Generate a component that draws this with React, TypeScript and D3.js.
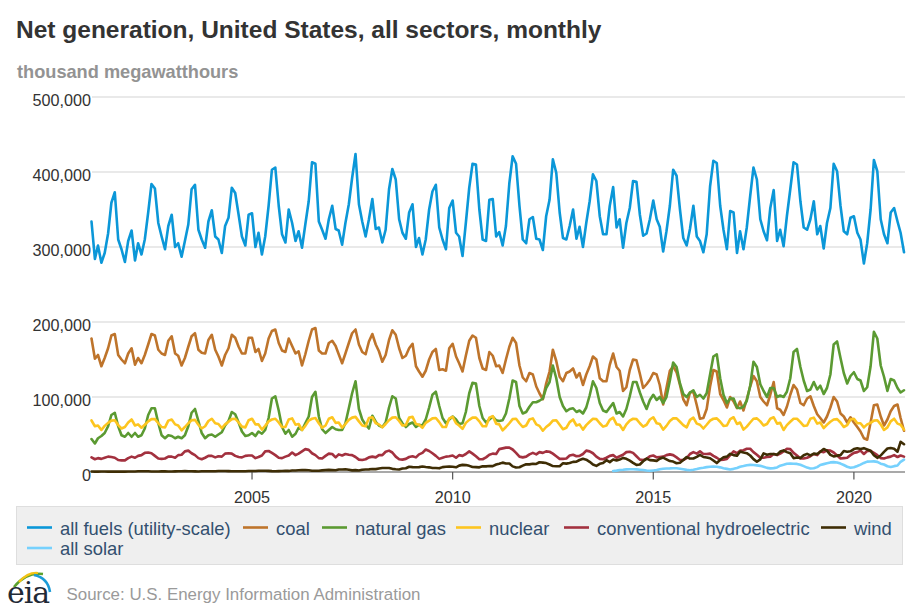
import React from 'react';
import * as d3 from 'd3';

// Monthly net generation, Jan 2001 – Apr 2021.
// Values are in million MWh (the axis is labelled in thousand megawatthours).
const allFuels = [
  334, 284, 302, 279, 292, 318, 359, 373, 310, 297, 280, 308,
  322, 282, 305, 290, 310, 346, 384, 378, 332, 314, 297, 328,
  343, 300, 305, 287, 308, 330, 377, 383, 323, 310, 299, 334,
  349, 314, 310, 292, 328, 339, 379, 372, 343, 314, 302, 343,
  345, 300, 319, 290, 314, 355, 403, 406, 355, 317, 306, 350,
  332, 308, 321, 299, 330, 361, 413, 411, 334, 323, 311, 337,
  355, 324, 322, 303, 332, 357, 392, 424, 357, 334, 314, 337,
  364, 324, 326, 306, 323, 377, 404, 390, 337, 319, 311, 346,
  357, 300, 312, 290, 310, 350, 374, 383, 326, 310, 297, 352,
  362, 319, 314, 288, 332, 379, 411, 410, 350, 310, 308, 363,
  364, 314, 320, 302, 328, 385, 421, 411, 355, 310, 305, 337,
  340, 311, 310, 296, 341, 363, 417, 399, 346, 312, 310, 328,
  350, 311, 327, 300, 332, 361, 397, 388, 341, 317, 317, 355,
  380, 326, 337, 299, 332, 352, 388, 387, 343, 315, 318, 337,
  362, 337, 327, 294, 321, 355, 403, 395, 350, 312, 302, 324,
  355, 314, 308, 293, 317, 381, 415, 412, 355, 323, 297, 348,
  346, 292, 321, 297, 326, 368, 406, 390, 337, 321, 309, 352,
  376, 308, 323, 301, 341, 377, 413, 410, 361, 326, 323, 337,
  361, 317, 328, 298, 332, 352, 411, 401, 355, 321, 317, 339,
  341, 319, 310, 278, 305, 350, 416, 401, 337, 317, 305, 346,
  352, 334, 319, 293,
];

const coal = [
  178, 151, 156, 141, 152, 165, 182, 184, 156, 150, 145, 158,
  165, 143, 152, 145, 156, 170, 184, 182, 163, 158, 156, 175,
  181, 158, 155, 142, 152, 167, 181, 185, 163, 159, 158, 176,
  183, 163, 154, 142, 156, 165, 183, 179, 167, 158, 158, 179,
  179, 160, 164, 148, 158, 178, 188, 190, 172, 162, 160, 178,
  168, 158, 161, 142, 157, 175, 190, 192, 162, 158, 158, 172,
  175, 168, 157, 145, 158, 172, 185, 190, 170, 160, 157, 174,
  184, 170, 161, 147, 156, 176, 189, 183, 165, 152, 155, 165,
  171, 141, 134, 127, 135, 150, 160, 164, 136, 137, 135, 165,
  171, 154, 145, 134, 155, 175, 182, 179, 152, 138, 136, 160,
  155, 141, 142, 132, 150, 167, 179, 172, 142, 126, 121, 132,
  130, 114, 105, 97, 118, 134, 163, 148, 127, 121, 132, 134,
  138, 126, 132, 116, 130, 141, 154, 150, 125, 121, 121, 143,
  158, 140, 135, 108, 113, 136, 150, 149, 131, 112, 117, 123,
  132, 130, 116, 90, 112, 135, 141, 133, 116, 97, 89, 106,
  107, 89, 71, 72, 84, 114, 136, 134, 104, 96, 86, 100,
  94, 85, 94, 82, 97, 114, 128, 121, 100, 94, 89, 103,
  120, 85, 83, 76, 87, 103, 116, 110, 92, 89, 98, 101,
  88, 77, 72, 66, 74, 86, 100, 94, 78, 74, 66, 73,
  66, 60, 54, 45, 43, 66, 89, 90, 74, 62, 70, 81,
  88, 90, 72, 55,
];

const naturalGas = [
  44, 38, 45, 48, 52, 61, 76, 79, 61, 49, 47, 52,
  47, 52, 47, 49, 58, 76, 85, 85, 65, 49, 45, 49,
  48, 45, 47, 45, 49, 61, 79, 84, 68, 52, 45, 49,
  50, 47, 50, 53, 62, 68, 80, 77, 66, 54, 48, 49,
  52, 48, 54, 51, 56, 72, 98, 101, 82, 60, 51, 56,
  47, 51, 59, 56, 65, 74, 100, 107, 74, 57, 52, 56,
  60, 57, 56, 56, 65, 85, 105, 121, 84, 70, 63, 58,
  75, 67, 62, 60, 66, 86, 101, 98, 72, 65, 60, 64,
  66, 60, 63, 62, 70, 86, 103, 107, 88, 72, 65, 70,
  74, 70, 64, 65, 80, 105, 119, 118, 88, 72, 66, 70,
  74, 69, 68, 69, 78, 98, 122, 120, 88, 78, 80, 87,
  93, 93, 95, 98, 112, 120, 142, 125, 100, 88, 81, 84,
  85, 80, 82, 78, 86, 102, 121, 112, 92, 82, 80, 86,
  92, 78, 80, 74, 84, 101, 120, 120, 106, 94, 84, 96,
  103, 96, 100, 92, 100, 122, 146, 140, 118, 104, 100, 106,
  109, 100, 103, 98, 105, 130, 154, 157, 125, 103, 92, 98,
  98, 86, 85, 87, 95, 115, 147, 140, 117, 108, 100, 112,
  112, 100, 102, 100, 107, 125, 160, 164, 140, 122, 108, 110,
  120, 110, 115, 104, 112, 130, 170, 174, 152, 132, 118, 128,
  133, 124, 122, 108, 113, 141, 187, 178, 142, 127, 108, 124,
  122, 112, 106, 109,
];

const nuclear = [
  68.7, 61.0, 62.0, 56.0, 61.5, 65.5, 68.5, 68.9, 62.5, 58.0, 60.0, 66.0,
  70.0, 62.0, 63.5, 59.0, 63.0, 67.5, 70.5, 70.5, 65.0, 60.0, 59.5, 68.5,
  70.0, 63.5, 62.0, 55.5, 60.0, 65.0, 69.0, 69.5, 63.0, 58.0, 61.0, 68.0,
  71.0, 65.0, 64.0, 58.5, 63.5, 67.0, 70.5, 71.0, 66.0, 60.5, 59.5, 69.0,
  71.0, 63.5, 63.5, 56.5, 61.5, 67.5, 70.0, 71.0, 66.0, 60.0, 60.0, 70.0,
  71.5, 63.0, 64.0, 56.0, 61.5, 68.5, 71.0, 72.0, 65.0, 59.0, 62.0, 71.0,
  73.0, 65.5, 66.0, 59.0, 64.0, 69.5, 72.5, 73.5, 67.5, 62.0, 61.0, 72.0,
  73.0, 65.0, 63.5, 59.5, 64.0, 69.0, 72.5, 73.0, 68.0, 62.0, 62.5, 72.5,
  73.5, 64.0, 63.0, 59.0, 65.5, 68.5, 71.5, 72.0, 66.5, 60.0, 60.0, 71.5,
  73.5, 65.0, 62.0, 57.5, 65.5, 69.5, 72.5, 72.5, 67.5, 61.0, 61.0, 72.5,
  74.5, 64.5, 63.5, 55.5, 60.0, 65.0, 70.5, 71.0, 65.0, 60.0, 62.0, 70.0,
  71.5, 63.5, 61.5, 55.0, 60.0, 63.5, 68.5, 69.0, 63.0, 57.0, 59.0, 66.5,
  70.0, 62.0, 63.5, 56.5, 62.5, 67.0, 71.0, 70.5, 65.0, 60.5, 62.0, 69.5,
  72.5, 63.5, 63.0, 56.0, 63.5, 68.5, 71.0, 70.5, 65.0, 60.5, 63.0, 70.0,
  73.0, 65.0, 64.0, 56.5, 61.5, 68.0, 71.5, 71.5, 67.0, 62.5, 59.5, 69.5,
  72.5, 64.5, 63.0, 58.0, 63.0, 68.5, 71.0, 71.5, 67.0, 61.5, 62.0, 70.5,
  73.0, 64.0, 66.0, 56.5, 60.5, 66.0, 71.0, 71.5, 67.5, 62.0, 64.0, 71.0,
  73.0, 64.5, 65.5, 56.0, 62.5, 67.0, 71.0, 71.0, 66.5, 61.5, 62.0, 71.0,
  72.5, 64.5, 66.0, 58.5, 63.0, 67.0, 70.0, 70.5, 66.0, 60.0, 62.5, 70.0,
  71.0, 65.0, 65.0, 59.5, 63.5, 65.5, 68.5, 69.0, 63.5, 56.0, 59.5, 67.5,
  71.0, 64.5, 63.0, 56.5,
];

const hydro = [
  19.5, 17.0, 18.5, 17.5, 19.0, 20.5, 20.0, 19.0, 16.0, 15.5, 15.5, 18.5,
  20.5, 19.0, 21.5, 22.5, 25.5, 26.0, 25.0, 21.5, 18.0, 17.5, 18.0, 20.5,
  20.5, 19.0, 22.5, 23.0, 27.5, 28.5, 25.0, 22.5, 18.5, 17.0, 19.0, 21.5,
  21.5, 19.5, 21.0, 20.5, 24.5, 25.0, 24.5, 21.5, 20.0, 19.5, 21.5, 22.0,
  22.0, 18.5, 20.0, 22.0, 27.5, 28.0, 25.5, 22.5, 19.0, 18.5, 20.5, 22.0,
  26.0, 22.5, 24.5, 27.5, 30.5, 29.5, 25.0, 22.5, 18.5, 18.0, 21.5, 24.5,
  24.0, 19.5, 23.5, 22.0, 24.0, 23.0, 22.5, 20.0, 16.5, 16.0, 17.0, 19.5,
  20.5, 19.5, 22.5, 22.5, 27.0, 28.5, 26.0, 20.5, 17.0, 16.5, 17.5, 20.0,
  21.0, 19.5, 23.5, 25.5, 30.0, 28.0, 25.0, 21.5, 17.5, 19.0, 20.5, 21.0,
  22.0, 19.0, 22.5, 21.5, 24.0, 27.5, 24.5, 21.0, 17.0, 17.0, 19.5, 23.0,
  24.5, 24.0, 30.5, 31.5, 32.5, 32.5, 30.0, 25.5, 20.5, 19.5, 20.5, 23.5,
  25.5, 23.5, 26.5, 25.5, 27.5, 27.0, 24.5, 21.0, 17.5, 17.5, 18.0, 22.0,
  23.0, 21.0, 21.5, 24.0, 28.5, 27.5, 25.0, 20.5, 17.5, 17.0, 19.0, 21.5,
  22.5, 19.0, 21.0, 23.0, 26.5, 27.0, 25.5, 21.0, 16.5, 16.0, 17.5, 21.0,
  22.0, 19.5, 20.0, 20.5, 22.5, 23.5, 22.5, 19.5, 16.0, 16.0, 18.5, 24.0,
  26.5, 24.5, 27.5, 24.0, 24.0, 24.5, 21.5, 19.0, 16.0, 16.5, 17.5, 22.5,
  27.5, 25.0, 28.5, 29.0, 31.0, 31.0, 26.5, 23.0, 19.0, 19.0, 20.0, 20.5,
  24.0, 22.5, 24.5, 27.5, 31.0, 30.5, 25.5, 22.0, 18.0, 18.0, 19.0, 21.0,
  24.0, 22.5, 27.5, 26.5, 29.0, 28.5, 26.0, 22.0, 18.0, 18.5, 19.0, 22.5,
  25.5, 26.5, 28.5, 24.0, 28.0, 28.0, 25.5, 22.5, 18.5, 18.0, 19.5, 20.5,
  22.5, 20.0, 22.0, 20.5,
];

const wind = [
  0.6, 0.45, 0.55, 0.6, 0.65, 0.55, 0.45, 0.45, 0.45, 0.6, 0.55, 0.6,
  0.75, 0.75, 0.95, 1.0, 1.05, 0.95, 0.75, 0.75, 0.65, 0.8, 0.8, 0.75,
  0.65, 0.8, 1.0, 1.1, 1.15, 1.0, 0.95, 0.85, 0.75, 0.95, 1.0, 0.95,
  0.95, 0.95, 1.25, 1.4, 1.4, 1.2, 0.95, 0.9, 0.95, 1.0, 1.05, 1.35,
  1.25, 1.3, 1.65, 1.75, 1.65, 1.55, 1.15, 1.05, 1.15, 1.3, 1.6, 1.45,
  2.1, 2.05, 2.4, 2.5, 2.5, 2.4, 1.75, 1.6, 1.75, 2.15, 2.5, 2.8,
  2.55, 2.3, 3.25, 3.3, 3.55, 2.9, 2.15, 2.5, 2.1, 3.05, 3.3, 3.5,
  3.9, 3.8, 4.6, 5.3, 5.3, 5.3, 4.2, 3.7, 3.35, 4.6, 5.0, 7.0,
  6.5, 6.3, 6.5, 7.3, 6.7, 6.2, 5.3, 5.3, 4.9, 6.5, 6.9, 7.3,
  6.9, 6.3, 8.5, 9.5, 9.2, 8.2, 6.6, 6.5, 6.2, 7.7, 7.5, 7.9,
  7.9, 10.0, 11.0, 12.5, 11.4, 11.4, 7.5, 6.1, 6.3, 8.5, 10.4, 10.2,
  11.0, 10.7, 13.0, 12.5, 11.9, 10.0, 7.9, 7.6, 7.8, 11.6, 11.2, 12.0,
  13.5, 13.7, 16.0, 17.6, 16.4, 13.6, 10.0, 8.1, 10.9, 11.9, 15.8, 13.2,
  16.7, 15.3, 16.6, 18.8, 17.6, 15.1, 12.2, 9.5, 10.0, 14.3, 17.8, 15.8,
  15.5, 14.8, 17.6, 19.2, 16.9, 14.6, 13.9, 11.7, 12.4, 15.9, 19.9, 17.9,
  18.0, 20.1, 22.7, 20.0, 19.4, 18.4, 15.4, 11.9, 16.3, 19.6, 20.5, 24.2,
  22.5, 21.6, 27.3, 25.9, 25.1, 22.0, 17.2, 13.7, 16.8, 24.8, 23.0, 23.9,
  24.0, 23.1, 27.2, 28.8, 26.5, 24.9, 18.5, 19.3, 18.7, 22.3, 24.2, 22.1,
  24.5, 23.9, 27.0, 30.7, 28.5, 22.9, 20.8, 21.8, 22.5, 28.0, 27.0, 27.6,
  30.6, 31.7, 30.6, 31.8, 30.1, 28.4, 22.4, 18.9, 22.0, 26.9, 31.3, 31.9,
  31.1, 27.1, 40.3, 37.0,
];

// all solar begins Jan 2014
const solar = [
  1.4, 1.8, 2.6, 3.0, 3.5, 3.6, 3.6, 3.5, 3.1, 2.6, 2.0, 1.7,
  2.1, 2.6, 3.7, 4.3, 4.7, 4.8, 5.1, 5.0, 4.4, 3.6, 2.8, 2.4,
  2.9, 3.9, 5.0, 5.7, 6.5, 7.0, 7.2, 7.0, 6.2, 5.1, 4.2, 3.4,
  4.2, 5.3, 7.0, 8.0, 9.1, 9.5, 9.3, 8.8, 8.2, 7.0, 5.5, 4.8,
  5.2, 6.1, 8.4, 9.6, 11.0, 11.3, 11.0, 10.8, 9.6, 7.8, 5.9, 4.7,
  5.0, 6.5, 9.3, 10.5, 11.6, 12.8, 13.2, 12.7, 11.2, 9.3, 7.0, 5.6,
  6.3, 8.0, 9.9, 12.1, 13.8, 14.1, 14.2, 13.5, 11.1, 10.0, 7.7, 6.7,
  7.8, 8.6, 13.6, 16.5,
];

const startMonth = new Date(2001, 0, 1);
const endMonth = new Date(2021, 3, 1);
const solarStart = new Date(2014, 0, 1);
const yTicks = [0, 100000, 200000, 300000, 400000, 500000];
const xTickYears = [2005, 2010, 2015, 2020];

const series = [
  { name: 'all fuels (utility-scale)', color: '#0b97d8', values: allFuels, start: startMonth },
  { name: 'coal', color: '#be742b', values: coal, start: startMonth },
  { name: 'natural gas', color: '#5b9a32', values: naturalGas, start: startMonth },
  { name: 'nuclear', color: '#fdc51f', values: nuclear, start: startMonth },
  { name: 'conventional hydroelectric', color: '#a3313f', values: hydro, start: startMonth },
  { name: 'wind', color: '#3e2d05', values: wind, start: startMonth },
  { name: 'all solar', color: '#76d1fd', values: solar, start: solarStart },
];

const W = 920;
const H = 613;
const FONT = '"Liberation Sans", Arial, Helvetica, sans-serif';

// legend slots (row, x of swatch)
const legendSlots = [
  { row: 0, x: 27 }, { row: 0, x: 243 }, { row: 0, x: 322 }, { row: 0, x: 456 },
  { row: 0, x: 564 }, { row: 0, x: 821 }, { row: 1, x: 27 },
];

export default function App() {
  const x = d3.scaleTime().domain([startMonth, endMonth]).range([91.5, 904]);
  const y = d3.scaleLinear().domain([0, 500000]).range([472, 97]);

  const line = d3.line<{ date: Date; value: number }>()
    .x(d => x(d.date))
    .y(d => y(d.value * 1000));

  const fmt = d3.format(',');

  return (
    <svg width={W} height={H} style={{ position: 'absolute', left: 0, top: 0, background: '#fff' }}
      fontFamily={FONT}>
      <text x={16} y={37.5} fontSize={24.5} fontWeight="bold" fill="#333">
        Net generation, United States, all sectors, monthly
      </text>
      <text x={17} y={77.5} fontSize={18.2} fontWeight="bold" fill="#939393">
        thousand megawatthours
      </text>

      {/* gridlines */}
      {yTicks.filter(t => t > 0).map(t => (
        <line key={t} x1={92} x2={905} y1={y(t)} y2={y(t)} stroke="#d4d4d4" strokeWidth={1.2} />
      ))}
      {yTicks.map(t => (
        <text key={'l' + t} x={91} y={y(t) + 9} textAnchor="end" fontSize={16.2} fill="#333">
          {fmt(t)}
        </text>
      ))}

      {/* x axis */}
      <line x1={91} x2={905} y1={472} y2={472} stroke="#555" strokeWidth={1.2} />
      {xTickYears.map(yr => {
        const px = x(new Date(yr, 0, 1));
        return (
          <g key={yr}>
            <line x1={px} x2={px} y1={472} y2={479.5} stroke="#555" strokeWidth={1.2} />
            <text x={px} y={503} textAnchor="middle" fontSize={16.2} fill="#333">{yr}</text>
          </g>
        );
      })}

      {/* series */}
      {series.map(s => {
        const months = d3.timeMonth.range(s.start, d3.timeMonth.offset(endMonth, 1));
        const pts = s.values.map((v, i) => ({ date: months[i], value: v }));
        return (
          <path key={s.name} d={line(pts) || ''} fill="none" stroke={s.color}
            strokeWidth={2.6} strokeLinejoin="round" strokeLinecap="round" />
        );
      })}

      {/* legend */}
      <rect x={16.5} y={506.5} width={886} height={58} fill="#efefef" stroke="#dedede" />
      {series.map((s, i) => {
        const slot = legendSlots[i];
        const ly = slot.row === 0 ? 527.5 : 548;
        return (
          <g key={'lg' + s.name}>
            <line x1={slot.x} x2={slot.x + 25} y1={ly} y2={ly} stroke={s.color} strokeWidth={2.6} />
            <text x={slot.x + 33} y={ly + 7} fontSize={18.4} fill="#33506f">{s.name}</text>
          </g>
        );
      })}

      {/* eia logo */}
      <g>
        <path d="M14,587 Q26,572 43,574" fill="none" stroke="#5ca12e" strokeWidth={2.6} />
        <path d="M19,582 Q28,572 38,573" fill="none" stroke="#f4c414" strokeWidth={2.2} />
        <path d="M34,575 Q48,578 50,592" fill="none" stroke="#1b9bd7" strokeWidth={2.6} />
        <text x={7} y={603} fontSize={30} fontFamily='"DejaVu Serif", "Liberation Serif", serif'
          fill="#1f2a36" letterSpacing={-1}>eia</text>
      </g>
      <text x={66.5} y={600} fontSize={16.9} fill="#9a9a9a">
        Source: U.S. Energy Information Administration
      </text>
    </svg>
  );
}
